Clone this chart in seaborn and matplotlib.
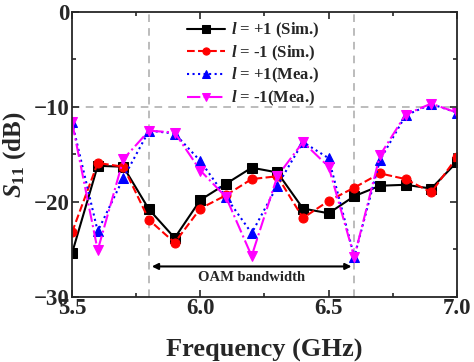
import pandas as pd
import numpy as np
import seaborn as sns
import matplotlib.pyplot as plt

freq = [5.5, 5.6, 5.7, 5.8, 5.9, 6.0, 6.1, 6.2, 6.3, 6.4, 6.5, 6.6, 6.7, 6.8, 6.9, 7.0]
sim_p1 = [-25.4, -16.2, -16.3, -20.8, -23.8, -19.8, -18.1, -16.4, -16.9, -20.7, -21.2, -19.4, -18.3, -18.2, -18.6, -15.8]
sim_m1 = [-23.2, -15.9, -16.3, -21.9, -24.3, -20.7, -19.3, -17.6, -17.3, -21.7, -19.9, -18.5, -17.0, -17.6, -19.0, -15.3]
mea_p1 = [-11.6, -23.1, -17.5, -12.5, -12.8, -15.7, -19.5, -23.3, -18.3, -13.7, -15.4, -25.8, -15.6, -10.9, -9.7, -10.6]
mea_m1 = [-11.6, -25.1, -15.5, -12.5, -12.7, -16.7, -19.5, -25.7, -17.3, -13.7, -16.3, -25.8, -15.1, -10.8, -9.65, -10.6]

series = {
    r'$l$ = +1 (Sim.)': (sim_p1, 'black', '-', 's'),
    r'$l$ = -1 (Sim.)': (sim_m1, 'red', '--', 'o'),
    r'$l$ = +1(Mea.)': (mea_p1, 'blue', ':', '^'),
    r'$l$ = -1(Mea.)': (mea_m1, 'magenta', '-.', 'v'),
}

sns.set_style('ticks')
plt.rcParams['font.family'] = ['Liberation Serif', 'DejaVu Serif']
plt.rcParams['font.weight'] = 'bold'
plt.rcParams['mathtext.fontset'] = 'custom'
plt.rcParams['mathtext.rm'] = 'Liberation Serif:bold'
plt.rcParams['mathtext.it'] = 'Liberation Serif:bold:italic'
plt.rcParams['mathtext.bf'] = 'Liberation Serif:bold'

fig, ax = plt.subplots(figsize=(4.74, 3.62), dpi=100)
fig.subplots_adjust(left=0.152, right=0.964, top=0.967, bottom=0.18)

# reference lines
for xv in [5.8, 6.6]:
    ax.axvline(xv, color='#aaaaaa', ls=(0, (5, 4)), lw=1.1, zorder=0)
ax.axhline(-10, color='#aaaaaa', ls=(0, (5, 4)), lw=1.1, zorder=0)

for label, (vals, color, ls, mk) in series.items():
    df = pd.DataFrame({'f': freq, 's11': vals})
    sns.lineplot(data=df, x='f', y='s11', ax=ax, color=color, linestyle=ls,
                 marker=mk, markersize=6.5, markeredgecolor=color, lw=1.5,
                 label=label)

ax.annotate('', xy=(5.8, -26.8), xytext=(6.6, -26.8),
            arrowprops=dict(arrowstyle='<|-|>', color='black', lw=1.5,
                            mutation_scale=9))
ax.text(6.2, -28.0, 'OAM bandwidth', ha='center', va='center',
        fontsize=10.5, fontweight='bold')

ax.set_xlim(5.5, 7.0)
ax.set_ylim(-30, 0)
ax.set_xticks([5.5, 6.0, 6.5, 7.0])
ax.set_xticklabels(['5.5', '6.0', '6.5', '7.0'])
ax.set_xticks([5.75, 6.25, 6.75], minor=True)
ax.set_yticks([0, -10, -20, -30])
ax.set_yticks([-5, -15, -25], minor=True)
ax.tick_params(which='both', direction='in', top=True, right=True,
               labelsize=16.5, width=1.2)
ax.tick_params(which='major', length=5)
ax.tick_params(which='minor', length=3)
for lab in ax.get_xticklabels() + ax.get_yticklabels():
    lab.set_fontweight('bold')
ax.tick_params(axis='x', pad=1)
ax.tick_params(axis='y', pad=2)
for sp in ax.spines.values():
    sp.set_linewidth(1.3)

ax.set_xlabel('Frequency (GHz)', fontsize=19, fontweight='bold', labelpad=14)
ax.set_ylabel(r'$\mathit{S}_{\mathit{11}}$ (dB)', fontsize=18, fontweight='bold', labelpad=4)

leg = ax.legend(loc='upper left', bbox_to_anchor=(0.275, 1.0), frameon=False,
                handlelength=2.3, handletextpad=0.35, labelspacing=0.2,
                borderaxespad=0.15, markerscale=0.8,
                prop={'weight': 'bold', 'size': 12})

fig.savefig('out.png', dpi=100)
